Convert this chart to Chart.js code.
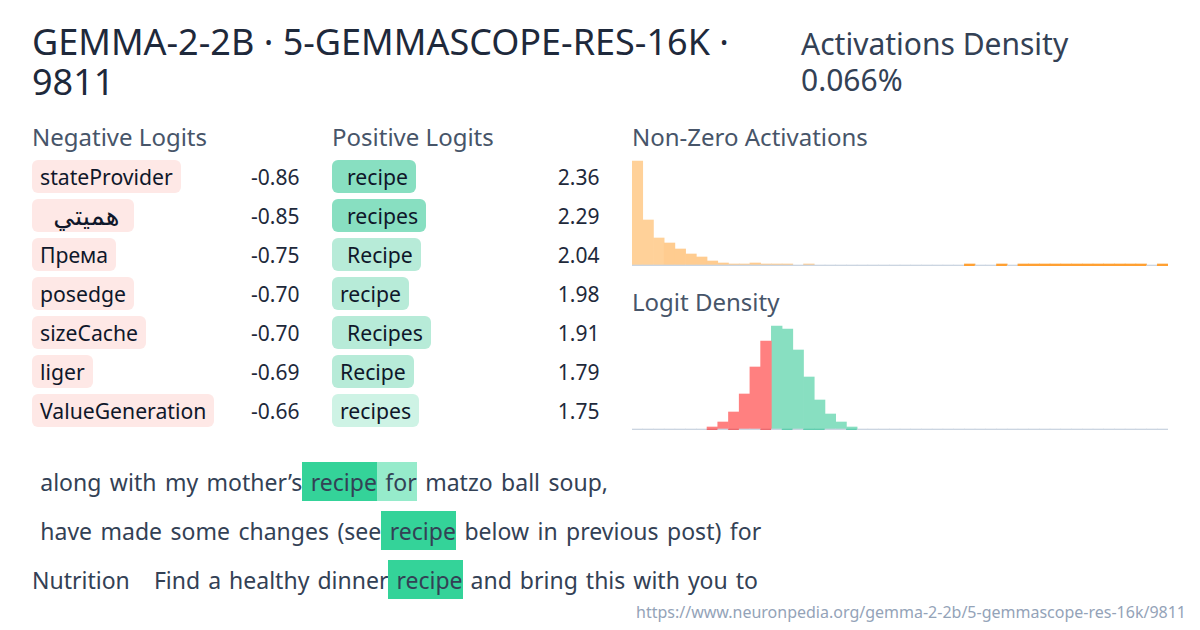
<!DOCTYPE html>
<html>
<head>
<meta charset="utf-8">
<script src="https://cdn.jsdelivr.net/npm/chart.js@4"></script>
<style>
  html, body { margin: 0; padding: 0; background: #fff; }
  body { width: 1200px; height: 630px; position: relative; overflow: hidden; font-family: "Noto Sans", "DejaVu Sans", sans-serif; }
  .abs { position: absolute; white-space: pre; }
  #title { left: 32px; top: 22px; width: 740px; font-size: 36px; line-height: 40px; color: #1e293b; white-space: normal; }
  #density { left: 801px; top: 26px; font-size: 30px; line-height: 36px; color: #334155; }
  .head { font-size: 24px; line-height: 30px; color: #475569; }
  .pill { height: 33px; line-height: 34px; padding: 0 8px; border-radius: 6px; font-size: 21.2px; word-spacing: 1.5px; color: #0f172a; }
  .val { font-size: 21px; line-height: 34px; color: #1e293b; text-align: right; width: 80px; }
  .line { font-size: 23px; line-height: 41px; height: 39px; color: #334155; }
  .line span { display: inline-block; height: 39px; white-space: pre; }
  #url { left: 636px; top: 601px; font-size: 16px; line-height: 22px; color: #94a3b8; }
  canvas { position: absolute; }
</style>
</head>
<body>
<div id="title" class="abs">GEMMA-2-2B · 5-GEMMASCOPE-RES-16K · 9811</div>
<div id="density" class="abs">Activations Density
0.066%</div>
<div class="abs head" style="left:32px;top:122px">Negative Logits</div>
<div class="abs head" style="left:332px;top:122px">Positive Logits</div>
<div class="abs head" style="left:632px;top:122px">Non-Zero Activations</div>
<div class="abs head" style="left:632px;top:287px">Logit Density</div>
<div id="tables"></div>
<div id="lines"></div>
<div id="url" class="abs">https://www.neuronpedia.org/gemma-2-2b/5-gemmascope-res-16k/9811</div>
<canvas id="act-chart" style="left:632px;top:156px;width:536px;height:111px"></canvas>
<canvas id="logit-chart" style="left:632px;top:320px;width:536px;height:111px"></canvas>
<script>
const negTokens = ['stateProvider', ' هميتي', 'Према', 'posedge', 'sizeCache', 'liger', 'ValueGeneration'];
const negValues = [-0.86, -0.85, -0.75, -0.70, -0.70, -0.69, -0.66];
const posTokens = [' recipe', ' recipes', ' Recipe', 'recipe', ' Recipes', 'Recipe', 'recipes'];
const posValues = [2.36, 2.29, 2.04, 1.98, 1.91, 1.79, 1.75];
const posShades = ['#88dfc1', '#88dfc1', '#b7ebd8', '#b7ebd8', '#b7ebd8', '#b7ebd8', '#cef3e5'];

const sentence1 = [' along', ' with', ' my', ' mother’s', ' recipe', ' for', ' matzo', ' ball', ' soup,'];
const sentence2 = [' have', ' made', ' some', ' changes', ' (see', ' recipe', ' below', ' in', ' previous', ' post)', ' for'];
const sentence3 = ['Nutrition', '   Find', ' a', ' healthy', ' dinner', ' recipe', ' and', ' bring', ' this', ' with', ' you', ' to'];
const sentence1Act = [0, 0, 0, 0, 1, 0.5, 0, 0, 0];
const sentence2Act = [0, 0, 0, 0, 0, 1, 0, 0, 0, 0, 0];
const sentence3Act = [0, 0, 0, 0, 0, 1, 0, 0, 0, 0, 0, 0];

const binLabels = [...Array(50).keys()];
const activationBins = [104, 45, 27, 22, 16, 11, 8, 4, 2, 1, 1, 2, 1, 1, 1, 0, 1, 0, 0, 0, 0, 0, 0, 0, 0,
  0, 0, 0, 0, 0, 0, 0, 0, 0, 0, 0, 0, 0, 0, 0, 0, 0, 0, 0, 0, 0, 0, 0, 0, 0];
// thin tail bins, these show up saturated in the reference
const activationTail = [0, 0, 0, 0, 0, 0, 0, 0, 0, 0, 0, 0, 0, 0, 0, 0, 0, 0, 0, 0, 0, 0, 0, 0, 0,
  0, 0, 0, 0, 0, 0, 1, 0, 0, 1, 0, 1, 1, 1, 1, 1, 1, 1, 1, 1, 1, 1, 1, 0, 1];
const negLogitBins = [0, 0, 0, 0, 0, 0, 0, 2, 7, 17, 35, 62, 88, 0, 0, 0, 0, 0, 0, 0, 0, 0, 0, 0, 0,
  0, 0, 0, 0, 0, 0, 0, 0, 0, 0, 0, 0, 0, 0, 0, 0, 0, 0, 0, 0, 0, 0, 0, 0, 0];
const posLogitBins = [0, 0, 0, 0, 0, 0, 0, 0, 0, 0, 0, 0, 0, 103, 100, 79, 52, 29, 15, 7, 2, 0, 0, 0, 0,
  0, 0, 0, 0, 0, 0, 0, 0, 0, 0, 0, 0, 0, 0, 0, 0, 0, 0, 0, 0, 0, 0, 0, 0, 0];
const axisBins = binLabels.map(() => 1);
const darkRedBins = [7, 9, 12];
const darkGreenBins = [14, 16, 17, 20];

function addDiv(parent, cls, css, text) {
  const d = document.createElement('div');
  d.className = 'abs ' + cls;
  d.style.cssText = css;
  d.textContent = text;
  parent.appendChild(d);
  return d;
}

function renderTables() {
  const root = document.getElementById('tables');
  negTokens.forEach((t, i) => {
    const top = 160 + i * 39;
    const pill = addDiv(root, 'pill', `left:32px;top:${top}px;background:#fee8e6`, t);
    // arabic fallback comes out much smaller here than in the reference
    if (/[\u0600-\u06ff]/.test(t)) {
      pill.style.fontSize = '26px';
      pill.style.lineHeight = '33px';
      pill.style.padding = '0 15px 0 13px';
    }
    addDiv(root, 'val', `left:219.5px;top:${top}px`, negValues[i].toFixed(2));
  });
  posTokens.forEach((t, i) => {
    const top = 160 + i * 39;
    addDiv(root, 'pill', `left:332px;top:${top}px;background:${posShades[i]}`, t);
    addDiv(root, 'val', `left:519.5px;top:${top}px`, posValues[i].toFixed(2));
  });
}

function renderLines() {
  const root = document.getElementById('lines');
  const lefts = [31.8, 31.8, 32];
  const gaps = [2.5, 2.5, 2.05];
  [[sentence1, sentence1Act], [sentence2, sentence2Act], [sentence3, sentence3Act]].forEach(([toks, acts], n) => {
    const line = document.createElement('div');
    line.className = 'abs line';
    line.style.top = (462 + n * 49) + 'px';
    line.style.left = lefts[n] + 'px';
    line.style.wordSpacing = gaps[n] + 'px';
    toks.forEach((t, i) => {
      const s = document.createElement('span');
      s.textContent = t;
      if (acts[i] === 1) s.style.background = '#34d399';
      else if (acts[i] > 0) s.style.background = '#96ebcb';
      line.appendChild(s);
    });
    root.appendChild(line);
  });
}

function histogram(id, datasets) {
  const canvas = document.getElementById(id);
  canvas.width = 536;
  canvas.height = 111;
  return new Chart(canvas, {
    type: 'bar',
    data: { labels: binLabels, datasets },
    options: {
      responsive: false,
      animation: false,
      layout: { padding: 0 },
      plugins: { legend: { display: false }, tooltip: { enabled: false } },
      scales: {
        x: {
          stacked: true,
          grid: { display: false, drawTicks: false },
          border: { display: false },
          ticks: { display: false },
          afterFit: s => { s.height = 1; }
        },
        y: { display: false, stacked: true, min: 0, max: 110 }
      }
    }
  });
}

function bars(data, color) {
  // empty bins stay null so no zero height bar gets painted on the axis
  return { data: data.map(v => v || null), backgroundColor: color, barPercentage: 1, categoryPercentage: 1, borderWidth: 0 };
}

const actShades = binLabels.map(i => (i < 3 ? '#ffd199' : '#ffcc90'));
const logitAxis = binLabels.map(i =>
  darkRedBins.includes(i) ? '#e96a70' : darkGreenBins.includes(i) ? '#63cdb0' : '#cbd5e1');
const actAxis = binLabels.map(i => (activationTail[i] ? '#ffa033' : '#cbd5e1'));

renderTables();
renderLines();
histogram('act-chart', [bars(axisBins, actAxis), bars(activationBins, actShades), bars(activationTail, '#ffa033')]);
histogram('logit-chart', [bars(axisBins, logitAxis), bars(negLogitBins, '#ff8080'), bars(posLogitBins, '#88dfc1')]);
</script>
</body>
</html>
